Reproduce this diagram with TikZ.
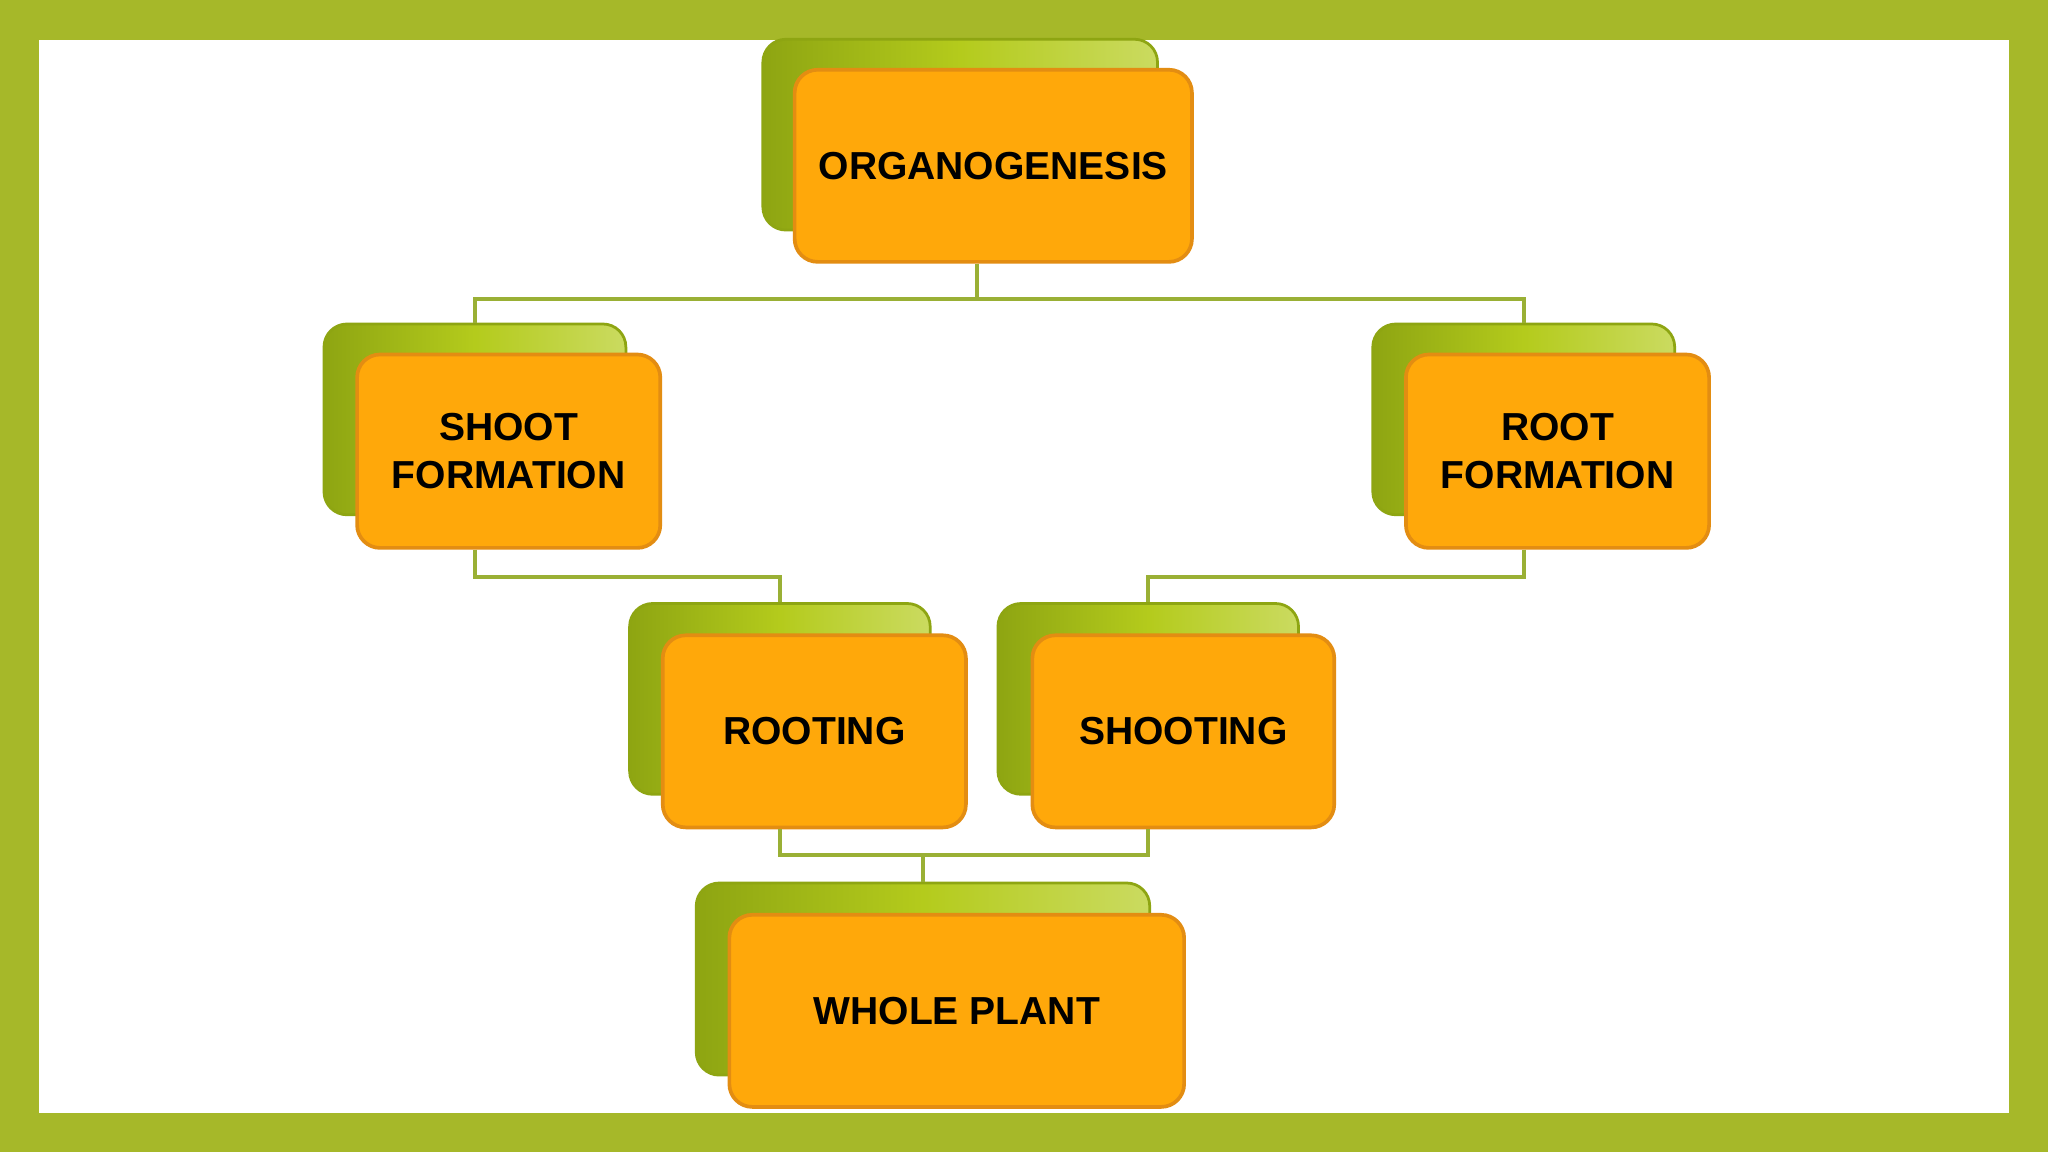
\documentclass[tikz,border=0pt]{standalone}
\usepackage{fontspec}
\setmainfont{Liberation Sans}
\usetikzlibrary{calc}
\definecolor{frame}{HTML}{A6B829}
\definecolor{boxfill}{HTML}{FFA80A}
\definecolor{boxline}{HTML}{E38D12}
\definecolor{leaf}{HTML}{B4CB1C}
\definecolor{leafdark}{HTML}{8EA512}
\definecolor{link}{HTML}{9AB035}
\begin{document}
\begin{tikzpicture}[x=0.01cm, y=-0.01cm,
    backbox/.style={rectangle, rounded corners=5pt, draw=leafdark, line width=0.6pt,
        left color=leafdark, right color=leaf!70!white, middle color=leaf, anchor=north west},
    frontbox/.style={rectangle, rounded corners=5pt, draw=boxline, line width=0.8pt,
        fill=boxfill, anchor=north west, align=center,
        font=\fontsize{8.5}{10.5}\selectfont\bfseries},
    connector/.style={draw=link, line width=0.9pt}
]
\useasboundingbox (0,0) rectangle (1568,882);
\fill[frame] (0,0) rectangle (1568,882);
\fill[white] (30,31) rectangle (1538,852);

% Boxes
\node[backbox, minimum width=3.02cm, minimum height=1.46cm] (orgback) at (583,29) {};
\node[frontbox, minimum width=3.04cm, minimum height=1.47cm] (org) at (607,52) {ORGANOGENESIS};

\node[backbox, minimum width=2.31cm, minimum height=1.46cm] (shootback) at (247,247) {};
\node[frontbox, minimum width=2.32cm, minimum height=1.48cm] (shoot) at (272,270) {SHOOT\\FORMATION};

\node[backbox, minimum width=2.31cm, minimum height=1.46cm] (rootback) at (1050,247) {};
\node[frontbox, minimum width=2.32cm, minimum height=1.48cm] (root) at (1075,270) {ROOT\\FORMATION};

\node[backbox, minimum width=2.30cm, minimum height=1.46cm] (rootingback) at (481,461) {};
\node[frontbox, minimum width=2.32cm, minimum height=1.47cm] (rooting) at (506,485) {ROOTING};

\node[backbox, minimum width=2.30cm, minimum height=1.46cm] (shootingback) at (763,461) {};
\node[frontbox, minimum width=2.31cm, minimum height=1.47cm] (shooting) at (789,485) {SHOOTING};

\node[backbox, minimum width=3.47cm, minimum height=1.47cm] (wholeback) at (532,675) {};
\node[frontbox, minimum width=3.48cm, minimum height=1.47cm] (whole) at (557,699) {WHOLE PLANT};

% Connectors
\coordinate (orgout) at ($(orgback.south)!0.5!(org.south)$);
\draw[connector] (orgout |- org.south) -- ++(0,27) -| (shootback.north);
\draw[connector] (orgout |- org.south) -- ++(0,27) -| (rootback.north);
\draw[connector] (shootback.south |- shoot.south) -- ++(0,21) -| (rootingback.north);
\draw[connector] (rootback.south |- root.south) -- ++(0,21) -| (shootingback.north);
\draw[connector] (rootingback.south |- rooting.south) -- ++(0,20) -| (wholeback.north);
\draw[connector] (shootingback.south |- shooting.south) -- ++(0,20) -| (wholeback.north);
\end{tikzpicture}
\end{document}
